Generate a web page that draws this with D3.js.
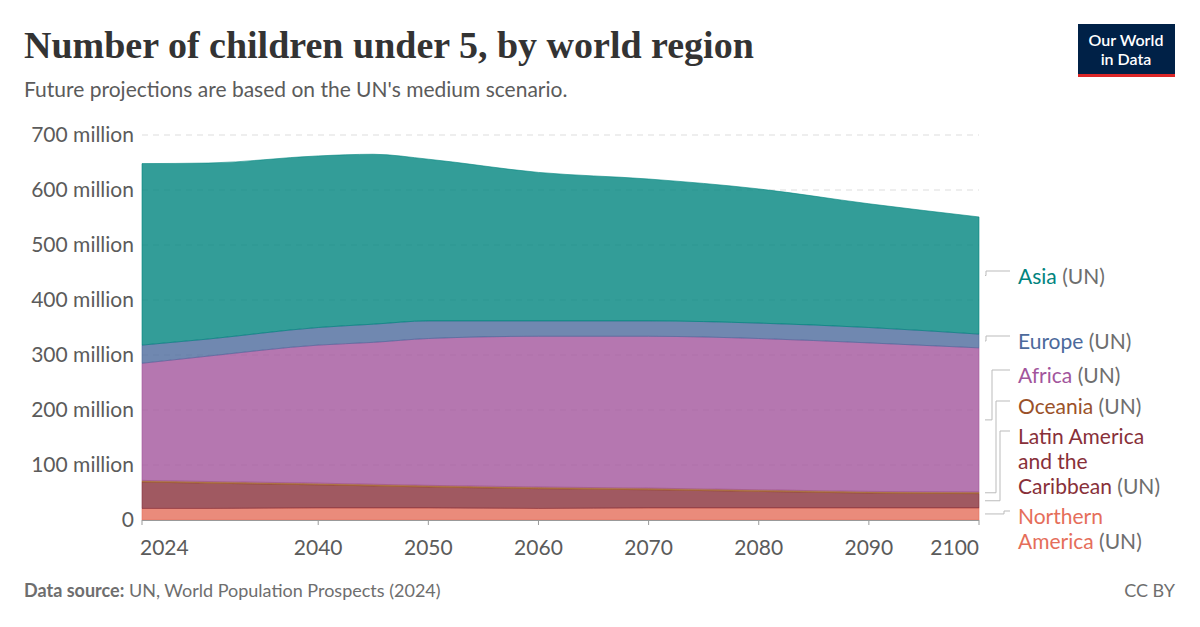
<!DOCTYPE html>
<html><head><meta charset="utf-8">
<script src="https://cdn.jsdelivr.net/npm/d3@7"></script>
<style>body{margin:0;background:#fff;font-family:Lato,sans-serif}</style></head>
<body><svg id="c" width="1200" height="627"></svg>
<script>
const years=[2024,2030,2040,2045,2050,2060,2070,2080,2090,2100];
const northernAmerica=[21,21,22,22,22,21,22,22,22,22];
const latinAmerica=[48,46,42,40,38,36,33,30,27,26];
const oceania=[3,3,3,3,3,3,3,3,3,3];
const africa=[213,228,251,258,267,274,276,275,270,262];
const europe=[33,31,32,33,32,28,28,28,28,25];
const asia=[330,320,312,309,294,270,258,244,225,213];
const yTicks=[0,100,200,300,400,500,600,700];
const xTicks=[2024,2040,2050,2060,2070,2080,2090,2100];
const series=[
 {key:"na",vals:northernAmerica,fill:"#e56e5a",text:"#e56e5a",lines:["Northern","America"],ly:517},
 {key:"la",vals:latinAmerica,fill:"#883039",text:"#883039",lines:["Latin America","and the","Caribbean"],ly:437},
 {key:"oc",vals:oceania,fill:"#a2622c",text:"#9a5129",lines:["Oceania"],ly:407},
 {key:"af",vals:africa,fill:"#a2559c",text:"#a2559c",lines:["Africa"],ly:376},
 {key:"eu",vals:europe,fill:"#4c6a9c",text:"#4c6a9c",lines:["Europe"],ly:342},
 {key:"as",vals:asia,fill:"#00847e",text:"#00847e",lines:["Asia"],ly:277}];
const table=years.map((y,i)=>{const o={year:y};series.forEach(s=>o[s.key]=s.vals[i]);return o;});
const svg=d3.select("#c");
const x=d3.scaleLinear().domain([2024,2100]).range([142,979]);
const y=d3.scaleLinear().domain([0,700]).range([520,135]);
svg.append("text").attr("x",24).attr("y",58).attr("font-family","'Liberation Serif',serif").attr("font-weight",700).attr("font-size",38).attr("fill","#333").text("Number of children under 5, by world region");
svg.append("text").attr("x",24).attr("y",97).attr("font-size",21).attr("fill","#5b5b5b").text("Future projections are based on the UN's medium scenario.");
const lg=svg.append("g");
lg.append("rect").attr("x",1078).attr("y",24).attr("width",97).attr("height",53).attr("fill","#002147");
lg.append("rect").attr("x",1078).attr("y",74).attr("width",97).attr("height",3).attr("fill","#dc2627");
lg.append("text").attr("x",1126).attr("y",46).attr("text-anchor","middle").attr("fill","#fff").attr("font-size",16).attr("font-weight",600).text("Our World");
lg.append("text").attr("x",1126).attr("y",65).attr("text-anchor","middle").attr("fill","#fff").attr("font-size",16).attr("font-weight",600).text("in Data");
yTicks.forEach(t=>{
 if(t>0) svg.append("line").attr("x1",142).attr("x2",979).attr("y1",y(t)).attr("y2",y(t)).attr("stroke","#ddd").attr("stroke-dasharray","6,5");
 svg.append("text").attr("x",134).attr("y",y(t)+7).attr("text-anchor","end").attr("font-size",21).attr("fill","#5b5b5b").text(t===0?"0":t+" million");
});
const stack=d3.stack().keys(series.map(s=>s.key))(table);
const area=d3.area().x(d=>x(d.data.year)).y0(d=>y(d[0])).y1(d=>y(d[1])).curve(d3.curveMonotoneX);
stack.forEach((layer,i)=>{
 svg.append("path").attr("d",area(layer)).attr("fill",series[i].fill).attr("fill-opacity",0.8).attr("stroke",series[i].fill).attr("stroke-width",0.6);
});
svg.append("line").attr("x1",142).attr("x2",979).attr("y1",520.5).attr("y2",520.5).attr("stroke","#999");
xTicks.forEach(t=>{
 svg.append("line").attr("x1",x(t)).attr("x2",x(t)).attr("y1",520).attr("y2",525).attr("stroke","#999");
 const anchor=t===2024?"start":t===2100?"end":"middle";
 svg.append("text").attr("x",x(t)+(t===2024?-2:0)).attr("y",555).attr("text-anchor",anchor).attr("font-size",21).attr("fill","#5b5b5b").text(t);
});
const elbows=[1004,1000,996,992,986,986];
stack.forEach((layer,i)=>{
 const s=series[i];const last=layer[layer.length-1];
 const ym=y((last[0]+last[1])/2);
 const ly=s.ly-6;
 const ex=elbows[i];
 svg.append("path").attr("d",`M985,${ym}H${ex}V${ly}H1010`).attr("fill","none").attr("stroke","#bbb").attr("stroke-width",1);
 s.lines.forEach((ln,j)=>{
  const t=svg.append("text").attr("x",1018).attr("y",s.ly+7+j*25).attr("font-size",21);
  t.append("tspan").attr("fill",s.text).text(ln);
  if(j===s.lines.length-1) t.append("tspan").attr("fill","#6e6e6e").text(" (UN)");
 });
});
svg.append("text").attr("x",24).attr("y",597).attr("font-size",18).attr("fill","#6e6e6e").html("<tspan font-weight='700'>Data source:</tspan> UN, World Population Prospects (2024)");
svg.append("text").attr("x",1175).attr("y",597).attr("text-anchor","end").attr("font-size",18).attr("fill","#6e6e6e").text("CC BY");
</script></body></html>
